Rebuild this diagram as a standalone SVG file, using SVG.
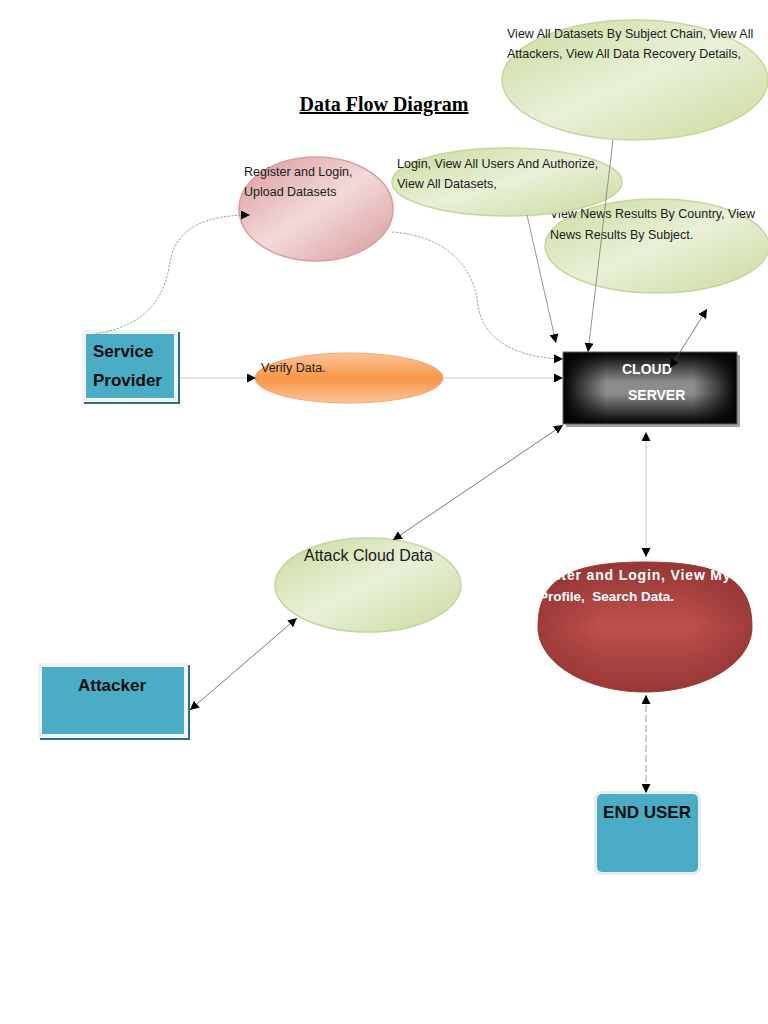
<svg xmlns="http://www.w3.org/2000/svg" width="768" height="1024" viewBox="0 0 768 1024">
<style>
.lbl{font-family:"Liberation Sans",Arial,sans-serif;font-size:12.5px;fill:#1a1a1a}
.box{font-family:"Liberation Sans",Arial,sans-serif;font-weight:bold;font-size:17px;fill:#0d0d0d}
.wht{font-family:"Liberation Sans",Arial,sans-serif;font-weight:bold;fill:#ffffff}
.thin{fill:none;stroke:#7a7a7a;stroke-width:0.8}
.dash{fill:none;stroke:#8a8a8a;stroke-width:0.8;stroke-dasharray:2.5 1.2}
.light{fill:none;stroke:#c8c8c8;stroke-width:1}
.dark{fill:none;stroke:#555;stroke-width:0.8}
</style>
<defs>
<marker id="ah" viewBox="0 0 10 10" refX="10" refY="5" markerWidth="9" markerHeight="9" markerUnits="userSpaceOnUse" orient="auto-start-reverse">
<path d="M0,0 L10,5 L0,10 z" fill="#000"/>
</marker>
<linearGradient id="green" x1="0" y1="0" x2="1" y2="1">
<stop offset="0" stop-color="#c9dc9c"/>
<stop offset="0.5" stop-color="#e8f0d8"/>
<stop offset="1" stop-color="#c9dc9c"/>
</linearGradient>
<linearGradient id="pink" x1="0" y1="0" x2="1" y2="1">
<stop offset="0" stop-color="#d9979a"/>
<stop offset="0.5" stop-color="#f2dada"/>
<stop offset="1" stop-color="#d9979a"/>
</linearGradient>
<linearGradient id="orange" x1="0" y1="0" x2="0" y2="1">
<stop offset="0" stop-color="#fbc49a"/>
<stop offset="0.5" stop-color="#f79646"/>
<stop offset="1" stop-color="#fbc49a"/>
</linearGradient>
<linearGradient id="red" x1="0" y1="0" x2="0" y2="1">
<stop offset="0" stop-color="#953735"/>
<stop offset="0.5" stop-color="#c0504d"/>
<stop offset="1" stop-color="#953735"/>
</linearGradient>
<linearGradient id="redH" x1="0" y1="0" x2="1" y2="0">
<stop offset="0" stop-color="#8a302e" stop-opacity="0.6"/>
<stop offset="0.3" stop-color="#8a302e" stop-opacity="0"/>
<stop offset="0.7" stop-color="#8a302e" stop-opacity="0"/>
<stop offset="1" stop-color="#8a302e" stop-opacity="0.6"/>
</linearGradient>
<linearGradient id="cloudH" x1="0" y1="0" x2="1" y2="0">
<stop offset="0" stop-color="#000"/>
<stop offset="0.25" stop-color="#8c8c8c"/>
<stop offset="0.75" stop-color="#8c8c8c"/>
<stop offset="1" stop-color="#000"/>
</linearGradient>
<linearGradient id="cloudV" x1="0" y1="0" x2="0" y2="1">
<stop offset="0" stop-color="#000" stop-opacity="1"/>
<stop offset="0.42" stop-color="#000" stop-opacity="0"/>
<stop offset="0.58" stop-color="#000" stop-opacity="0"/>
<stop offset="1" stop-color="#000" stop-opacity="1"/>
</linearGradient>
<path id="redShape" d="M538,627 C538,580 568,562 645,562 C722,562 752,580 752,627 C752,663 704,692 645,692 C586,692 538,663 538,627 Z"/>
</defs>

<text x="384" y="111" text-anchor="middle" font-family="'Liberation Serif','Times New Roman',serif" font-weight="bold" font-size="20" text-decoration="underline" fill="#000">Data Flow Diagram</text>

<g id="datasets-view">
<ellipse cx="635" cy="80" rx="133" ry="60" fill="url(#green)" stroke="#c3d69b" stroke-width="1.5"/>
<text class="lbl" x="507" y="38">View All Datasets By Subject Chain, View All</text>
<text class="lbl" x="507" y="58">Attackers, View All Data Recovery Details,</text>
</g>

<g id="news-view">
<ellipse cx="657" cy="246" rx="112" ry="47" fill="url(#green)" stroke="#c3d69b" stroke-width="1.5"/>
<text class="lbl" x="550" y="218">View News Results By Country, View</text>
<text class="lbl" x="550" y="239">News Results By Subject.</text>
</g>

<g id="login-view">
<ellipse cx="507" cy="182" rx="115" ry="34" fill="url(#green)" stroke="#c3d69b" stroke-width="1.5"/>
<text class="lbl" x="397" y="168">Login, View All Users And Authorize,</text>
<text class="lbl" x="397" y="188">View All Datasets,</text>
</g>

<g id="register-upload">
<ellipse cx="316" cy="209" rx="77" ry="52" fill="url(#pink)" stroke="#dc9a9a" stroke-width="1.5"/>
<text class="lbl" x="244" y="176">Register and Login,</text>
<text class="lbl" x="244" y="196">Upload Datasets</text>
</g>

<g id="service-provider">
<rect x="84" y="332" width="96" height="72" fill="#2f6d80"/>
<rect x="82" y="330" width="96" height="72" fill="#f2f2f2"/>
<rect x="86" y="334" width="88" height="64" fill="#4bacc6"/>
<text class="box" x="93" y="357">Service</text>
<text class="box" x="93" y="386">Provider</text>
</g>

<g id="verify-data">
<ellipse cx="349" cy="378" rx="94" ry="25" fill="url(#orange)" stroke="#f8a56a" stroke-width="1"/>
<text class="lbl" x="261" y="372">Verify Data.</text>
</g>

<g id="cloud-server">
<rect x="566" y="355" width="174" height="72" fill="#a0a0a0"/>
<rect x="563" y="352" width="174" height="72" fill="url(#cloudH)"/>
<rect x="563" y="352" width="174" height="72" fill="url(#cloudV)"/>
<rect x="563" y="352" width="174" height="72" fill="none" stroke="#666" stroke-width="1"/>
<text class="wht" x="622" y="374" font-size="14">CLOUD</text>
<text class="wht" x="628" y="400" font-size="14">SERVER</text>
</g>

<g id="attack-cloud-data">
<ellipse cx="368" cy="585" rx="93" ry="47" fill="url(#green)" stroke="#c3d69b" stroke-width="1.5"/>
<text x="304" y="561" font-family="'Liberation Sans',Arial,sans-serif" font-size="16" fill="#1a1a1a">Attack Cloud Data</text>
</g>

<g id="attacker">
<rect x="40" y="665" width="150" height="75" fill="#2f6d80"/>
<rect x="38" y="663" width="150" height="75" fill="#f2f2f2"/>
<rect x="42" y="667" width="142" height="67" fill="#4bacc6"/>
<text class="box" x="112" y="691" text-anchor="middle">Attacker</text>
</g>

<g id="user-functions">
<use href="#redShape" fill="url(#red)" stroke="#a03c3a" stroke-width="1"/>
<use href="#redShape" fill="url(#redH)"/>
<text class="wht" x="519" y="580" font-size="14" letter-spacing="0.85">Register and Login, View My</text>
<text class="wht" x="539" y="601" font-size="13.5" xml:space="preserve">Profile,  Search Data.</text>
</g>

<g id="end-user">
<rect x="594" y="791" width="107" height="84" rx="7" fill="#ececec"/>
<rect x="597" y="794" width="101" height="78" rx="5" fill="#4bacc6"/>
<text class="box" x="647" y="818" text-anchor="middle" font-size="16">END USER</text>
</g>

<g id="connectors">
<path class="dash" d="M95,334 C150,325 165,295 170,262 C176,228 205,215 250,215" marker-end="url(#ah)"/>
<path class="dash" d="M392,232 C448,236 474,268 478,305 C483,342 520,358 563,359" marker-end="url(#ah)"/>
<path class="light" d="M180,378 L256,378" marker-end="url(#ah)"/>
<path class="light" d="M444,378 L563,378" marker-end="url(#ah)"/>
<path class="thin" d="M527,215 L556,343" marker-end="url(#ah)"/>
<path class="thin" d="M613,140 L588,352" marker-end="url(#ah)"/>
<path class="dark" d="M670,368 L707,309" marker-start="url(#ah)" marker-end="url(#ah)"/>
<path class="dark" d="M563,425 L393,540" marker-start="url(#ah)" marker-end="url(#ah)"/>
<path class="dark" d="M297,618 L190,710" marker-start="url(#ah)" marker-end="url(#ah)"/>
<path class="light" d="M646,432 L646,557" marker-start="url(#ah)" marker-end="url(#ah)"/>
<path fill="none" stroke="#999" stroke-width="1" stroke-dasharray="7 3" d="M646,695 L646,793" marker-start="url(#ah)" marker-end="url(#ah)"/>
</g>
</svg>
